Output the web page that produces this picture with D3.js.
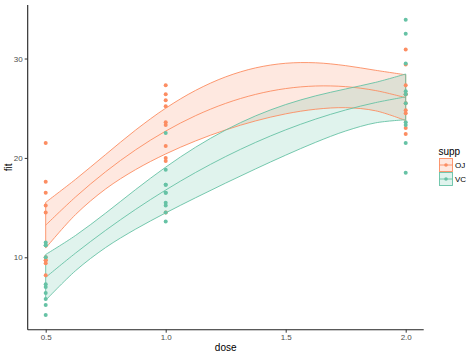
<!DOCTYPE html>
<html><head><meta charset="utf-8">
<script src="https://cdn.jsdelivr.net/npm/d3@7"></script>
<style>body{margin:0;background:#fff}svg{display:block;font-family:"Liberation Sans",Arial,sans-serif}</style>
</head><body><svg id="c" width="474" height="355"></svg>
<script>
// Raw observations (ToothGrowth)
const doses = [0.5, 1, 2];
const ojLen = [
  [15.2, 21.5, 17.6, 9.7, 14.5, 10, 8.2, 9.4, 16.5, 9.7],
  [19.7, 23.3, 23.6, 26.4, 20, 25.2, 25.8, 21.2, 14.5, 27.3],
  [25.5, 26.4, 22.4, 24.5, 24.8, 30.9, 26.4, 27.3, 29.4, 23]
];
const vcLen = [
  [4.2, 11.5, 7.3, 5.8, 6.4, 10, 11.2, 11.2, 5.2, 7],
  [16.5, 16.5, 15.2, 17.3, 22.5, 17.3, 13.6, 14.5, 18.8, 15.5],
  [23.6, 18.5, 33.9, 25.5, 26.4, 32.5, 26.7, 21.5, 23.3, 29.5]
];
// Fitted curve (quadratic model) and 95% CI, at these doses
const fitDose = [0.5, 0.625, 0.75, 0.875, 1, 1.125, 1.25, 1.375, 1.5, 1.625, 1.75, 1.875, 2];
const ojFit = [13.23, 16.084, 18.614, 20.819, 22.70, 24.256, 25.488, 26.394, 26.977, 27.234, 27.168, 26.776, 26.06];
const vcFit = [7.98, 10.434, 12.717, 14.829, 16.77, 18.540, 20.139, 21.567, 22.823, 23.909, 24.824, 25.567, 26.14];
const halfCI = [2.302, 1.771, 1.732, 1.991, 2.302, 2.543, 2.668, 2.667, 2.545, 2.336, 2.115, 2.037, 2.302];
const xTicks = [0.5, 1.0, 1.5, 2.0];
const yTicks = [10, 20, 30];
const groups = ["OJ", "VC"];
const colors = ["#FC8D62", "#66C2A5"];

const svg = d3.select("#c");
const L = 27.7, R = 423.7, T = 5, B = 329.7;
const x = d3.scaleLinear().domain([0.425, 2.075]).range([L, R]);
const y = d3.scaleLinear().domain([2.715, 35.385]).range([B, T]);

const series = [
  {name: "OJ", fit: ojFit, pts: ojLen, col: colors[0]},
  {name: "VC", fit: vcFit, pts: vcLen, col: colors[1]}
];
const curve = d3.curveCatmullRom.alpha(0.5);
const area = d3.area().x((d,i)=>x(fitDose[i])).y0(d=>y(d.lo)).y1(d=>y(d.hi)).curve(curve);
const line = d3.line().x((d,i)=>x(fitDose[i])).y(d=>d).curve(curve);

const g = svg.append("g");
series.forEach(s => {
  const band = s.fit.map((f,i)=>({lo: f - halfCI[i], hi: f + halfCI[i]}));
  g.append("path").attr("d", area(band)).attr("fill", s.col).attr("fill-opacity", 0.2).attr("stroke", "none");
});
series.forEach(s => {
  const lo = s.fit.map((f,i)=>y(f - halfCI[i]));
  const hi = s.fit.map((f,i)=>y(f + halfCI[i]));
  const mid = s.fit.map(f=>y(f));
  [lo, hi, mid].forEach(arr => g.append("path").attr("d", line(arr)).attr("fill","none").attr("stroke", s.col).attr("stroke-width", 0.9));
  // ribbon end edges
  [0, fitDose.length-1].forEach(i => g.append("line").attr("x1", x(fitDose[i])).attr("x2", x(fitDose[i]))
     .attr("y1", lo[i]).attr("y2", hi[i]).attr("stroke", s.col).attr("stroke-width", 0.9));
});
series.forEach(s => {
  s.pts.forEach((vals, j) => vals.forEach(v =>
    g.append("circle").attr("cx", x(doses[j])).attr("cy", y(v)).attr("r", 2).attr("fill", s.col)));
});

// axes
const ax = svg.append("g").attr("transform", `translate(0,${B})`)
  .call(d3.axisBottom(x).tickValues(xTicks).tickFormat(d3.format(".1f")).tickSize(3).tickPadding(2));
const ay = svg.append("g").attr("transform", `translate(${L},0)`)
  .call(d3.axisLeft(y).tickValues(yTicks).tickSize(3).tickPadding(2));
[ax, ay].forEach(a => {
  a.select(".domain").attr("stroke", "#222").attr("stroke-width", 1.1);
  a.selectAll(".tick line").attr("stroke", "#333");
  a.selectAll(".tick text").attr("fill", "#4D4D4D").style("font-size", "8px");
});
ax.select(".domain").attr("d", `M${L},0H${R}`);
ay.select(".domain").attr("d", `M0,${T}V${B}`);

svg.append("text").attr("x", (L+R)/2).attr("y", 351).attr("text-anchor","middle").style("font-size","10px").attr("fill","#000").text("dose");
svg.append("text").attr("transform", `translate(12,${(T+B)/2}) rotate(-90)`).attr("text-anchor","middle").style("font-size","10px").attr("fill","#000").text("fit");

// legend
const lg = svg.append("g");
lg.append("text").attr("x", 438.5).attr("y", 155).style("font-size","10px").attr("fill","#000").text("supp");
groups.forEach((gname, i) => {
  const ky = 158.5 + i * 14;
  lg.append("rect").attr("x", 439.5).attr("y", ky).attr("width", 13).attr("height", 13)
    .attr("fill", colors[i]).attr("fill-opacity", 0.2).attr("stroke", colors[i]).attr("stroke-width", 0.9);
  lg.append("line").attr("x1", 439.5).attr("x2", 452.5).attr("y1", ky+6.5).attr("y2", ky+6.5).attr("stroke", colors[i]).attr("stroke-width", 0.9);
  lg.append("circle").attr("cx", 446).attr("cy", ky+6.5).attr("r", 1.8).attr("fill", colors[i]);
  lg.append("text").attr("x", 455).attr("y", ky+6.5).attr("dy","0.35em").style("font-size","8px").attr("fill","#000").text(gname);
});
</script></body></html>
